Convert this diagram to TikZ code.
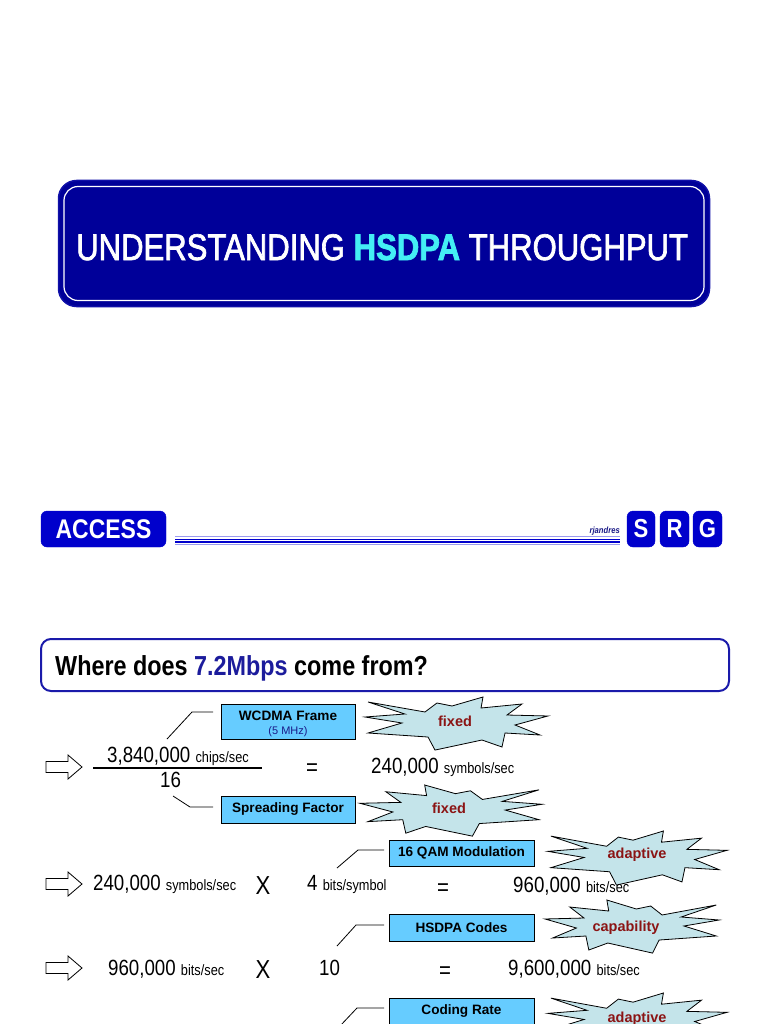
\documentclass[tikz,border=0pt]{standalone}
\usepackage{fontspec}
\setmainfont{Liberation Sans}
\newfontfamily\nf{Liberation Sans}[FakeStretch=0.85]
\newfontfamily\nfmed{Liberation Sans}[FakeStretch=0.84,FakeBold=1.8,BoldFeatures={FakeBold=2}]
\definecolor{navy}{HTML}{000099}
\definecolor{titleedge}{HTML}{1010A8}
\definecolor{accblue}{HTML}{0000CC}
\definecolor{qborder}{HTML}{1A1AAA}
\definecolor{mbps}{HTML}{1C1C9C}
\definecolor{boxblue}{HTML}{66CCFF}
\definecolor{burstfill}{HTML}{C4E4EA}
\definecolor{burstred}{HTML}{8B1414}
\definecolor{hcyan}{HTML}{44EEF4}
\definecolor{linelight}{HTML}{9A9AF0}
\definecolor{authorblue}{HTML}{1A1A88}
\newcommand\fs[1]{\fontsize{#1}{#1}\selectfont}
\newcommand\burstshape[4]{%
  \begin{scope}[shift={(#1,#2)},xscale=#3,yscale=#4]
    \draw[burststyle] (-0.935,-0.818) -- (-0.323,-0.455) -- (-0.194,-0.782) -- (-0.032,-0.673) -- (0.301,-1.0) -- (0.280,-0.6) -- (0.720,-0.745) -- (0.559,-0.345) -- (1.0,-0.31) -- (0.645,0.018) -- (0.914,0.382) -- (0.538,0.309) -- (0.505,0.818) -- (0.290,0.564) -- (-0.215,0.93) -- (-0.29,0.455) -- (-0.935,0.309) -- (-0.570,-0.055) -- (-0.968,-0.273) -- (-0.538,-0.382) -- cycle;
  \end{scope}}
\begin{document}
\begin{tikzpicture}[x=1pt,y=-1pt,
  txt/.style={inner sep=0pt,anchor=base west},
  num/.style={inner sep=0pt,anchor=base west,font=\nf\fs{22}},
  sym/.style={inner sep=0pt,font=\nf\fs{24}},
  bigx/.style={inner sep=0pt,font=\nf\fs{26}},
  hdrbox/.style={fill=accblue,draw=accblue,rounded corners=6pt,text=white,inner sep=0pt,minimum height=36pt},
  lbox/.style={draw=black,line width=0.8pt,fill=boxblue,inner sep=0pt,font=\bfseries\fs{13.6},align=center},
  boxlabel/.style={inner sep=0pt,font=\bfseries\fs{13.6}},
  burststyle/.style={draw=black,line width=0.8pt,fill=burstfill},
  bursttext/.style={inner sep=0pt,text=burstred,font=\bfseries\fs{14.5}},
  conn/.style={draw=black,line width=0.8pt},
  hollowarrow/.pic={\draw[line width=0.8pt,fill=white] (-18,-5.5) -- (4,-5.5) -- (4,-12) -- (18,0) -- (4,12) -- (4,5.5) -- (-18,5.5) -- cycle;}
]
\useasboundingbox (0,0) rectangle (768,1024);
\fill[white] (0,0) rectangle (768,1024);
\clip (0,0) rectangle (768,1024);

% title
\node[draw=titleedge,line width=1.5pt,fill=navy,rounded corners=18pt,minimum width=651pt,minimum height=126pt,inner sep=0pt] (title) at (384,243.5) {};
\node[draw=white,line width=1.2pt,rounded corners=14pt,minimum width=640pt,minimum height=114pt,inner sep=0pt] (titleinner) at (title.center) {};
\node[txt,text=white] (titletext) at (76,260) {\nfmed\fs{37}UNDERSTANDING {\color{hcyan}\bfseries HSDPA} THROUGHPUT};

% header
\node[hdrbox,minimum width=125pt] (access) at (103.5,529) {\nf\fs{27}\bfseries ACCESS};
\draw[linelight,line width=1pt] (175,536.5) -- (620,536.5);
\draw[accblue,line width=1.4pt] (175,539.2) -- (620,539.2);
\draw[accblue,line width=1.4pt] (175,541.8) -- (620,541.8);
\draw[linelight,line width=1pt] (175,544.2) -- (620,544.2);
\node[inner sep=0pt,anchor=base east,text=authorblue] (author) at (620,533) {\nf\fs{9}\bfseries\itshape rjandres};
\node[hdrbox,minimum width=28pt] (srgS) at (641,529) {\nf\fs{26}\bfseries S};
\node[hdrbox,minimum width=29pt] (srgR) at (674.5,529) {\nf\fs{26}\bfseries R};
\node[hdrbox,minimum width=29pt] (srgG) at (707.5,529) {\nf\fs{26}\bfseries G};

% question
\node[draw=qborder,line width=2pt,rounded corners=10pt,fill=white,minimum width=688pt,minimum height=52pt,inner sep=0pt] (question) at (385,665) {};
\node[txt] (qtext) at (55,675) {\nf\fs{27.5}\bfseries Where does {\color{mbps}7.2Mbps} come from?};

% row 1
\pic (arrow1) at (64,767) {hollowarrow};
\node[num] (numer) at (107,762) {3,840,000 {\fs{15}chips/sec}};
\node[num] (denom) at (160,787) {16};
\coordinate (fracL) at (93,768);
\coordinate (fracR) at (262,768);
\draw[line width=1.2pt] (fracL) -- (fracR);
\node[sym] (eq1) at (312,770) {=};
\node[num] (res1) at (371,773) {240,000 {\fs{15}symbols/sec}};

\node[lbox,minimum width=134pt,minimum height=35pt] (wcdma) at (288,721.5) {};
\node[boxlabel,anchor=base] (wcdmat) at (288,720) {WCDMA Frame};
\node[inner sep=0pt,anchor=base,font=\fs{11},text=authorblue] (wcdmas) at (288,734) {(5 MHz)};
\node[lbox,minimum width=134pt,minimum height=27pt] (spread) at (288,809.5) {Spreading Factor};
\coordinate (w1) at (167,739); \coordinate (w2) at (192,712); \coordinate (w3) at (213,712);
\draw[conn] (w1) -- (w2) -- (w3);
\coordinate (s1) at (173,796); \coordinate (s2) at (190,807); \coordinate (s3) at (213,807);
\draw[conn] (s1) -- (s2) -- (s3);

\burstshape{455}{724.5}{93}{27.5}
\node[bursttext] (fixed1) at (455,721) {fixed};
\burstshape{452.5}{811.5}{-92.5}{26.5}
\node[bursttext] (fixed2) at (449,808) {fixed};

% row 2
\pic (arrow2) at (64,884) {hollowarrow};
\node[num] (sym2) at (93,890) {240,000 {\fs{15}symbols/sec}};
\node[bigx] (x2) at (263,886) {X};
\node[num] (bits2) at (307,890) {4 {\fs{15}bits/symbol}};
\node[sym] (eq2) at (443,890) {=};
\node[num] (res2) at (513,892) {960,000 {\fs{15}bits/sec}};
\node[lbox,minimum width=145pt,minimum height=26pt] (qam) at (461.5,853) {16 QAM Modulation};
\coordinate (q1) at (337,868); \coordinate (q2) at (358,850); \coordinate (q3) at (384,850);
\draw[conn] (q1) -- (q2) -- (q3);
\burstshape{636}{859}{91}{28}
\node[bursttext] (adapt1) at (637,855) {adaptive};

% row 3
\pic (arrow3) at (64,968) {hollowarrow};
\node[num] (bits3) at (108,975) {960,000 {\fs{15}bits/sec}};
\node[bigx] (x3) at (263,970) {X};
\node[num] (codes3) at (319,975) {10};
\node[sym] (eq3) at (445,973) {=};
\node[num] (res3) at (508,975) {9,600,000 {\fs{15}bits/sec}};
\node[lbox,minimum width=145pt,minimum height=27pt] (hsdpa) at (461.5,927.5) {HSDPA Codes};
\coordinate (h1) at (337,946); \coordinate (h2) at (356,925); \coordinate (h3) at (384,925);
\draw[conn] (h1) -- (h2) -- (h3);
\burstshape{633.5}{927.5}{-88.5}{27.5}
\node[bursttext] (capab) at (626,928) {capability};

% row 4 (cut off)
\node[lbox,minimum width=145pt,minimum height=27pt] (coding) at (461.5,1011.5) {Coding Rate};
\coordinate (c1) at (340,1026); \coordinate (c2) at (357,1008); \coordinate (c3) at (384,1008);
\draw[conn] (c1) -- (c2) -- (c3);
\burstshape{636}{1021}{91}{28}
\node[bursttext] (adapt2) at (637,1019) {adaptive};
\end{tikzpicture}
\end{document}
